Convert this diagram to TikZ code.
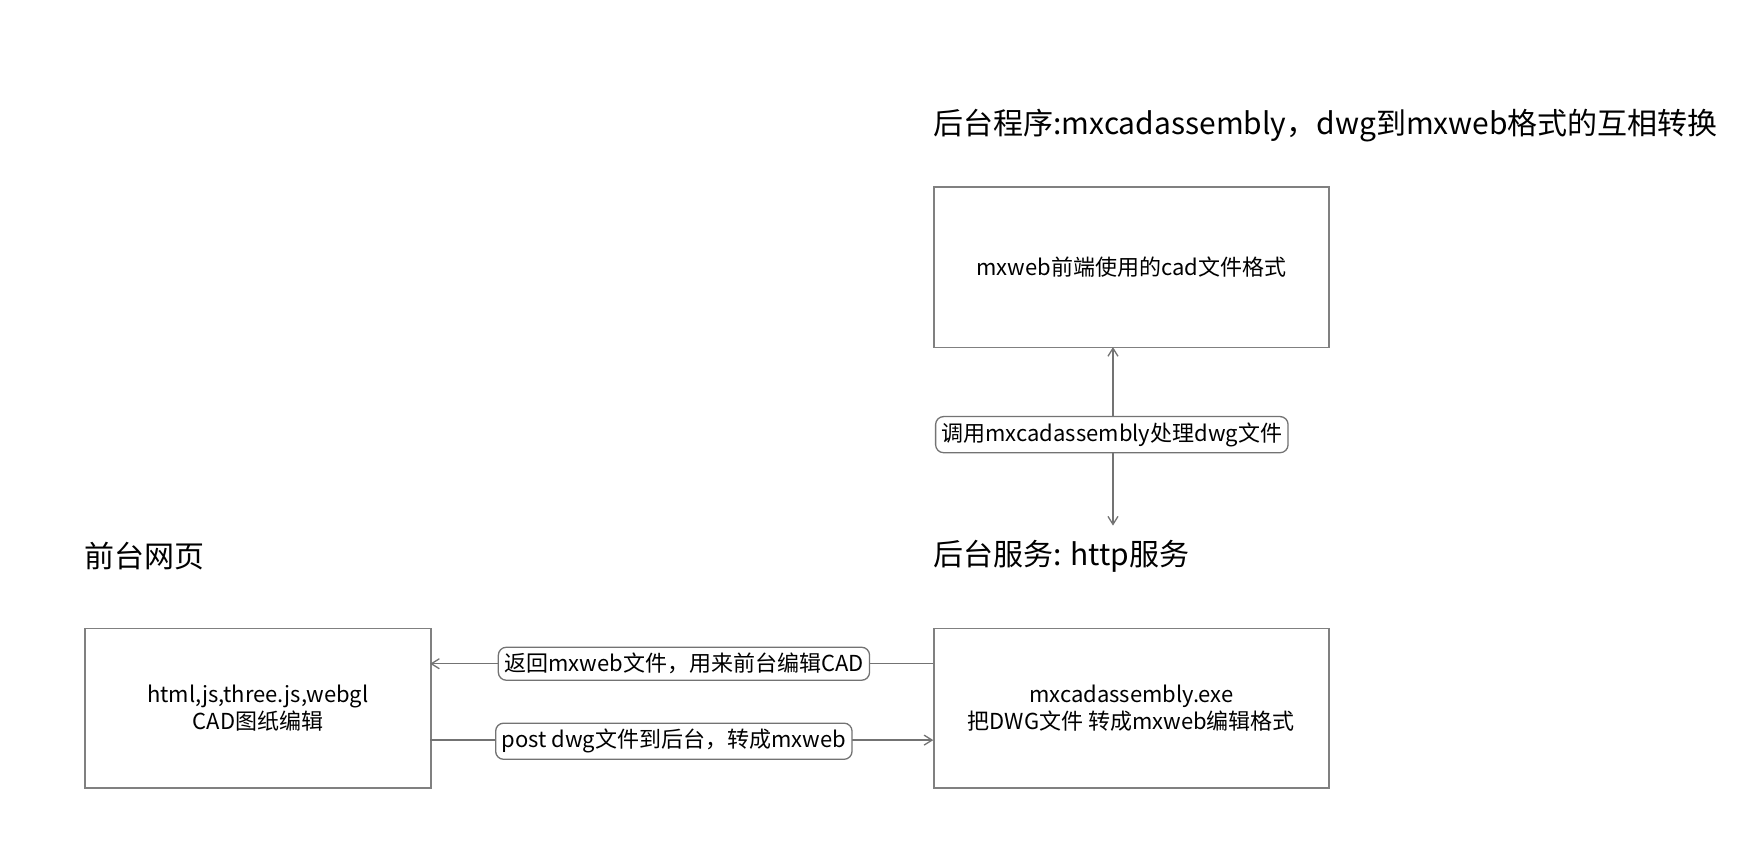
\documentclass[tikz,border=0pt]{standalone}
\usepackage{fontspec}
\setmainfont{Noto Sans CJK SC}
\usetikzlibrary{arrows.meta}
\begin{document}
\begin{tikzpicture}[x=1.123pt,y=-1.123pt,
  box/.style={draw=black!50, line width=1.3pt, minimum width=#1, anchor=north west, align=center, font=\fontsize{22}{27}\selectfont},
  lbl/.style={draw=black!55, line width=1.3pt, rounded corners=8pt, fill=white, font=\fontsize{22}{24}\selectfont, inner sep=6pt},
  ttl/.style={anchor=west, font=\fontsize{30}{33}\selectfont, inner sep=0pt},
  arr/.style={draw=black!55, line width=1.3pt, -{Straight Barb[length=8pt,width=10pt]}}]
\useasboundingbox (0,0) rectangle (1560,770);
\node[box=346pt, minimum height=159.5pt] (fe) at (75,559) {html,js,three.js,webgl\\CAD图纸编辑};
\node[box=395pt, minimum height=159.5pt] (be) at (831,559) {mxcadassembly.exe\\把DWG文件 转成mxweb编辑格式};
\node[box=395pt, minimum height=160.5pt] (pg) at (831,166) {mxweb前端使用的cad文件格式};
\node[ttl] (t1) at (75,495) {前台网页};
\node[ttl] (t2) at (831,495) {后台服务: http服务};
\node[ttl] (t3) at (831,112) {后台程序:mxcadassembly，dwg到mxweb格式的互相转换};
\coordinate (vt) at (991,309);
\coordinate (vb) at (991,468);
\draw[arr,{Straight Barb[length=8pt,width=10pt]}-{Straight Barb[length=8pt,width=10pt]}] (vb) -- (vt);
\node[lbl] (l1) at (990,387) {调用mxcadassembly处理dwg文件};
\coordinate (a1s) at (831,591); \coordinate (a1e) at (383,591);
\draw[arr] (a1s) -- (a1e);
\node[lbl] (l2) at (609,591) {返回mxweb文件，用来前台编辑CAD};
\coordinate (a2s) at (383,659); \coordinate (a2e) at (831,659);
\draw[arr] (a2s) -- (a2e);
\node[lbl] (l3) at (600,660) {post dwg文件到后台，转成mxweb};
\end{tikzpicture}
\end{document}
